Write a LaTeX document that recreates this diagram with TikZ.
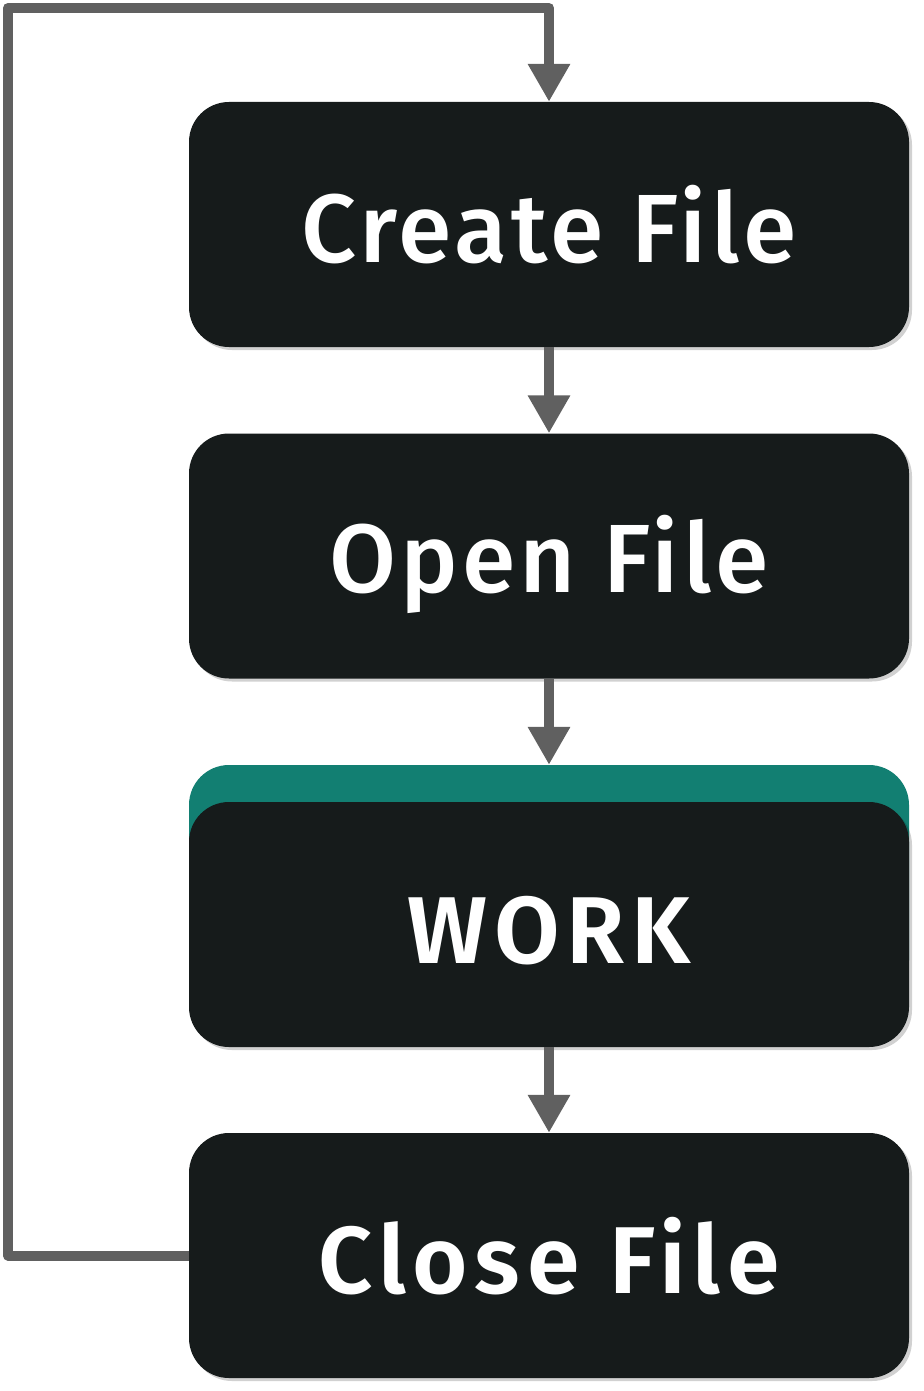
\documentclass[tikz,border=0pt]{standalone}
\usepackage{fontspec}
\setmainfont{Fira Sans}
\newfontfamily\boxfont[LetterSpace=4]{Fira Sans Medium}
\newfontfamily\boxfontb[LetterSpace=7]{Fira Sans SemiBold}
\usetikzlibrary{arrows.meta,shadows}
\definecolor{boxbg}{HTML}{161B1B}
\definecolor{teal2}{HTML}{127F72}
\definecolor{conngray}{HTML}{606060}
\tikzset{
  boxnode/.style={fill=boxbg, rounded corners=40pt, minimum width=720pt, minimum height=245pt,
    inner sep=0pt, text=white, font=\boxfont\fontsize{97}{100}\selectfont,
    text height=67pt, text depth=0pt,
    drop shadow={shadow xshift=3pt, shadow yshift=-3pt, opacity=0.18, fill=black}},
  boldtext/.style={font=\boxfontb\fontsize{95}{100}\selectfont},
  conn/.style={draw=conngray, line width=10pt, line join=round,
    -{Triangle[width=40pt,length=38pt]}, fill=none},
}
\begin{document}
\begin{tikzpicture}[x=1pt,y=-1pt]
\useasboundingbox (0,0) rectangle (923,1391);
\fill[white] (0,0) rectangle (923,1391);
\node[boxnode] (create) at (549,224.5) {\raisebox{-4pt}{Create File}};
\node[boxnode] (open) at (549,556) {\raisebox{-3pt}{Open File}};
\node[fill=teal2, rounded corners=40pt, minimum width=720pt, minimum height=235pt, inner sep=0pt] (tealback) at (549,882.5) {};
\node[boxnode, boldtext] (work) at (549,924.5) {\raisebox{-5pt}{WORK}};
\node[boxnode, boldtext] (close) at (549,1255.5) {\raisebox{-4pt}{Close File}};
\draw[conn] (create.south) -- (open.north);
\draw[conn] (open.south) -- (tealback.north);
\draw[conn] (work.south) -- (close.north);
\coordinate (lb) at (8,1255.5);
\coordinate (lt) at (8,8);
\draw[conn] (close.west) -- (lb) -- (lt) -- (create.north |- lt) -- (create.north);
\end{tikzpicture}
\end{document}
